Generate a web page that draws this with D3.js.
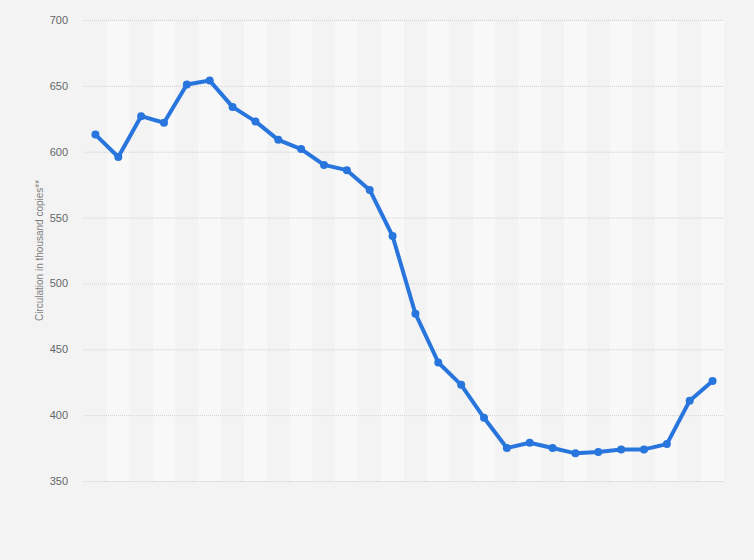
<!DOCTYPE html>
<html>
<head>
<meta charset="utf-8">
<script src="https://cdn.jsdelivr.net/npm/d3@7"></script>
<style>
  body { margin: 0; background: #f3f3f3; }
  svg { display: block; font-family: "Liberation Sans", Arial, sans-serif; }
</style>
</head>
<body>
<svg id="chart" width="754" height="560"></svg>
<script>
// data points (no x labels shown in the original)
const categories = ["1", "2", "3", "4", "5", "6", "7", "8", "9", "10", "11", "12", "13", "14",
  "15", "16", "17", "18", "19", "20", "21", "22", "23", "24", "25", "26", "27", "28"];
const circulation = [613, 596, 627, 622, 651, 654, 634, 623, 609, 602, 590, 586, 571, 536,
  477, 440, 423, 398, 375, 379, 375, 371, 372, 374, 374, 378, 411, 426];
const yTicks = [350, 400, 450, 500, 550, 600, 650, 700];
const yTitle = "Circulation in thousand copies**";

const svg = d3.select("#chart");
const margin = { top: 20, right: 30, bottom: 79, left: 84 };
const width = 754 - margin.left - margin.right;
const height = 560 - margin.top - margin.bottom;

svg.append("rect").attr("width", 754).attr("height", 560).attr("fill", "#f3f3f3");

const g = svg.append("g").attr("transform", `translate(${margin.left},${margin.top})`);

const x = d3.scaleBand().domain(categories).range([0, width]).padding(0);
const y = d3.scaleLinear().domain([350, 700]).range([height, 0]);

// alternating column bands
g.selectAll(".band")
  .data(categories)
  .enter().append("rect")
    .attr("class", "band")
    .attr("x", d => x(d))
    .attr("y", 0)
    .attr("width", x.bandwidth())
    .attr("height", height)
    .attr("fill", (d, i) => i % 2 ? "#f8f8f8" : "#f3f3f3");

// y axis with gridlines
const yAxis = g.append("g")
  .call(d3.axisLeft(y).tickValues(yTicks).tickSize(-width).tickPadding(16));
yAxis.select(".domain").remove();
yAxis.selectAll(".tick line")
  .attr("stroke", "#cfcfcf")
  .attr("stroke-dasharray", "1,1");
yAxis.selectAll(".tick text")
  .attr("fill", "#666")
  .attr("font-size", "11px")
  .attr("font-family", "\"Liberation Sans\", Arial, sans-serif");

svg.append("text")
  .attr("transform", `translate(43,${margin.top + height / 2}) rotate(-90)`)
  .attr("text-anchor", "middle")
  .attr("fill", "#808080")
  .attr("font-size", "10px")
  .text(yTitle);

const cx = d => x(d) + x.bandwidth() / 2;

const line = d3.line()
  .x((d, i) => cx(categories[i]))
  .y(d => y(d));

g.append("path")
  .datum(circulation)
  .attr("fill", "none")
  .attr("stroke", "#2876dd")
  .attr("stroke-width", 4)
  .attr("stroke-linejoin", "round")
  .attr("d", line);

g.selectAll(".dot")
  .data(circulation)
  .enter().append("circle")
    .attr("class", "dot")
    .attr("cx", (d, i) => cx(categories[i]))
    .attr("cy", d => y(d))
    .attr("r", 4)
    .attr("fill", "#2876dd");
</script>
</body>
</html>
